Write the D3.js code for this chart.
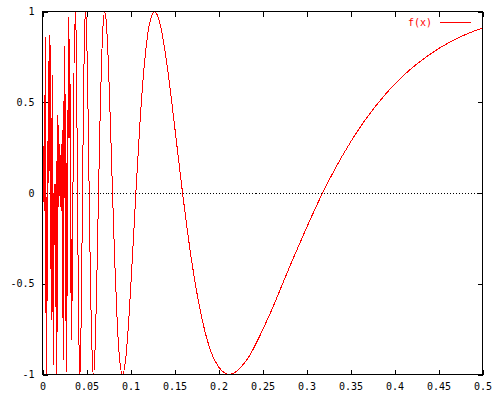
<!DOCTYPE html>
<html>
<head>
<meta charset="utf-8">
<script src="https://cdn.jsdelivr.net/npm/d3@7"></script>
<style>
  body { margin: 0; background: #fff; }
  svg { display: block; }
  text { font-family: "DejaVu Sans Mono", monospace; font-size: 10px; fill: #000; }
</style>
</head>
<body>
<svg width="500" height="400"></svg>
<script>
// values: the aliased part near x = 0
const nearX = [0.00080, 0.00136, 0.00193, 0.00250, 0.00307, 0.00420, 0.00534, 0.00591, 0.00648, 0.00705,
    0.00761, 0.00818, 0.00875, 0.00989, 0.01102, 0.01216, 0.01273, 0.01330, 0.01386, 0.01443,
    0.01500, 0.01557, 0.01670, 0.01727, 0.01784, 0.01864, 0.01898, 0.02011, 0.02125, 0.02205,
    0.02239, 0.02352, 0.02466, 0.02523, 0.02580, 0.02693, 0.02807, 0.02864, 0.02920, 0.02977,
    0.03034, 0.03091, 0.03148, 0.03261, 0.03318, 0.03375, 0.03489];
const nearY = [0.03, -0.05, 0.42, -0.10, 0.86, -1.00, 0.19, -0.60, 0.73, 0.05,
    0.87, 0.12, 0.82, -0.70, 0.65, -0.95, 0.00, -0.29, 0.05, -0.39,
    0.05, -1.00, 0.43, -0.77, 0.375, -0.08, 0.27, -0.08, 0.27, -0.10,
    0.35, -0.92, 0.81, -0.03, 0.55, -0.99, 0.41, -0.57, 0.97, 0.30,
    0.85, 0.30, 0.60, -0.81, -0.25, -0.59, 0.23];

// the resolved wave, peaks / crossings / shoulders
const waveX = [0.03745, 0.03801, 0.03858, 0.03918, 0.03979, 0.04042, 0.04107, 0.04175, 0.04244, 0.04316,
    0.04390, 0.04468, 0.04547, 0.04630, 0.04716, 0.04805, 0.04897, 0.04993, 0.05093, 0.05197,
    0.05305, 0.05418, 0.05536, 0.05659, 0.05787, 0.05922, 0.06063, 0.06211, 0.06366, 0.06530,
    0.06701, 0.06882, 0.07074, 0.07276, 0.07490, 0.07717, 0.07958, 0.08214, 0.08488, 0.08781,
    0.09095, 0.09431, 0.09794, 0.10186, 0.10610, 0.11072, 0.11575, 0.12126, 0.12732, 0.13403,
    0.14147, 0.14979, 0.15915, 0.16977, 0.18189, 0.19588, 0.21221, 0.23150, 0.25465, 0.28294,
    0.31831, 0.34, 0.36378, 0.39, 0.42441, 0.45, 0.475, 0.5];
const waveY = [1, 0.9239, 0.7071, 0.3827, 0, -0.3827, -0.7071, -0.9239, -1, -0.9239,
    -0.7071, -0.3827, 0, 0.3827, 0.7071, 0.9239, 1, 0.9239, 0.7071, 0.3827,
    0, -0.3827, -0.7071, -0.9239, -1, -0.9239, -0.7071, -0.3827, 0, 0.3827,
    0.7071, 0.9239, 1, 0.9239, 0.7071, 0.3827, 0, -0.3827, -0.7071, -0.9239,
    -1, -0.9239, -0.7071, -0.3827, 0, 0.3827, 0.7071, 0.9239, 1, 0.9239,
    0.7071, 0.3827, 0, -0.3827, -0.7071, -0.9239, -1, -0.9239, -0.7071, -0.3827,
    0, 0.1991, 0.3827, 0.5459, 0.7071, 0.7952, 0.8606, 0.9093];

const xTicks = [0, 0.05, 0.1, 0.15, 0.2, 0.25, 0.3, 0.35, 0.4, 0.45, 0.5];
const xTickLabels = ["0", "0.05", "0.1", "0.15", "0.2", "0.25", "0.3", "0.35", "0.4", "0.45", "0.5"];
const yTicks = [-1, -0.5, 0, 0.5, 1];
const yTickLabels = ["-1", "-0.5", "0", "0.5", "1"];
const seriesName = "f(x)";

const plotLeft = 42.5, plotRight = 482.5, plotTop = 11.5, plotBottom = 374.5;
const red = "#ff0000";

const svg = d3.select("svg");

const x = d3.scaleLinear().domain([0, 0.5]).range([plotLeft, plotRight]);
const y = d3.scaleLinear().domain([-1, 1]).range([plotBottom, plotTop]);

const points = nearX.map((v, i) => [v, nearY[i]])
    .concat(waveX.map((v, i) => [v, waveY[i]]));

// zero axis, dotted
svg.append("line")
    .attr("x1", x(0)).attr("x2", x(0.5))
    .attr("y1", y(0)).attr("y2", y(0))
    .attr("stroke", "#000")
    .attr("stroke-dasharray", "1,2")
    .attr("shape-rendering", "crispEdges");

// axes, ticks pointing inward like gnuplot
const axisStyle = g => {
    g.select(".domain").remove();
    g.selectAll("line").attr("stroke", "#000").attr("shape-rendering", "crispEdges");
    g.selectAll("text").attr("fill", "#000")
        .style("font-family", '"DejaVu Sans Mono", monospace').style("font-size", "10px");
};

svg.append("g")
    .attr("transform", `translate(0,${plotBottom})`)
    .call(d3.axisBottom(x).tickValues(xTicks).tickSizeInner(-5).tickSizeOuter(0)
        .tickPadding(8).tickFormat((d, i) => xTickLabels[i]))
    .call(axisStyle);

svg.append("g")
    .attr("transform", `translate(0,${plotTop})`)
    .call(d3.axisTop(x).tickValues(xTicks).tickSizeInner(-5).tickSizeOuter(0).tickFormat(""))
    .call(axisStyle);

svg.append("g")
    .attr("transform", `translate(${plotLeft},0)`)
    .call(d3.axisLeft(y).tickValues(yTicks).tickSizeInner(-5).tickSizeOuter(0)
        .tickPadding(8).tickFormat((d, i) => yTickLabels[i]))
    .call(axisStyle);

svg.append("g")
    .attr("transform", `translate(${plotRight},0)`)
    .call(d3.axisRight(y).tickValues(yTicks).tickSizeInner(-5).tickSizeOuter(0).tickFormat(""))
    .call(axisStyle);

// the curve, drawn without smoothing like the bitmap original
svg.append("path")
    .datum(points)
    .attr("fill", "none")
    .attr("stroke", red)
    .attr("stroke-width", 1)
    .attr("shape-rendering", "crispEdges")
    .attr("d", d3.line()
        .x(d => x(d[0]))
        .y(d => y(d[1]))
        .curve(d3.curveMonotoneX));

// border
svg.append("rect")
    .attr("x", plotLeft).attr("y", plotTop)
    .attr("width", plotRight - plotLeft).attr("height", plotBottom - plotTop)
    .attr("fill", "none")
    .attr("stroke", "#000")
    .attr("shape-rendering", "crispEdges");

// key
const key = svg.append("g").attr("transform", "translate(0,22.5)");
key.append("text")
    .attr("x", 432).attr("dy", "0.35em")
    .attr("text-anchor", "end")
    .style("fill", red)
    .text(seriesName);
key.append("line")
    .attr("x1", 440).attr("x2", 471)
    .attr("stroke", red)
    .attr("shape-rendering", "crispEdges");
</script>
</body>
</html>
